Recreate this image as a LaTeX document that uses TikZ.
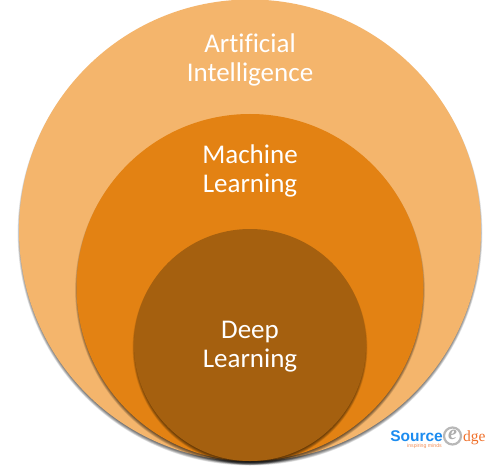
\documentclass[tikz,border=0pt]{standalone}
\usepackage{fontspec}
\setmainfont[Ligatures=NoCommon,Renderer=Basic]{Carlito}
\newfontfamily\logosans{Liberation Sans}
\newfontfamily\logoserif{Liberation Serif}
\definecolor{outerc}{HTML}{F4B56C}
\definecolor{midc}{HTML}{E38213}
\definecolor{innerc}{HTML}{A5600F}
\definecolor{logoblue}{HTML}{1C8CF0}
\definecolor{logoorange}{HTML}{F0702A}
\tikzset{
 disc/.style={circle,inner sep=0pt,outer sep=0pt,minimum size=#1},
 lab/.style={text=white,font=\fontsize{27}{29}\selectfont,align=center,inner sep=0pt},
}
\newcommand{\softshadow}[3]{%
 \foreach \k in {0,...,7}{
  \fill[black,opacity=0.09] ({#1},{#2+2.6}) circle ({#3+1.4-0.45*\k});
 }}
\begin{document}
\begin{tikzpicture}[x=1pt,y=-1pt]
\useasboundingbox (0,0) rectangle (500,473);
\fill[white] (0,0) rectangle (500,473);
\softshadow{250}{230.5}{231}
\node[disc=462pt,fill=outerc] (ai) at (250,230.5) {};
\softshadow{250}{287.5}{173.5}
\node[disc=347pt,fill=midc] (ml) at (250,287.5) {};
\softshadow{250}{345}{116}
\node[disc=232pt,fill=innerc] (dl) at (250,345) {};
\node[lab] (t1) at (250,59.5) {Artificial\\Intelligence};
\node[lab] (t2) at (250,170.5) {Machine\\Learning};
\node[lab] (t3) at (250,347) {Deep\\Learning};
\node[circle,draw=black!28,line width=2.2pt,minimum size=17pt,inner sep=0pt] (lc) at (452.5,436) {};
\node[inner sep=0pt,anchor=base east,font=\logosans\bfseries\fontsize{15.5}{15.5}\selectfont,text=logoblue] (ls) at (443,441) {Source};
\node[inner sep=0pt,font=\logoserif\itshape\bfseries\fontsize{20}{20}\selectfont,text=black!32] (le) at (452.5,434.5) {e};
\node[inner sep=0pt,anchor=base west,font=\logoserif\fontsize{15.5}{15.5}\selectfont,text=logoorange] (ld) at (463,441) {dge};
\node[inner sep=0pt,font=\logosans\fontsize{5.2}{5.2}\selectfont,text=logoorange!80!white] (li) at (424.5,446) {inspiring minds};
\end{tikzpicture}
\end{document}
